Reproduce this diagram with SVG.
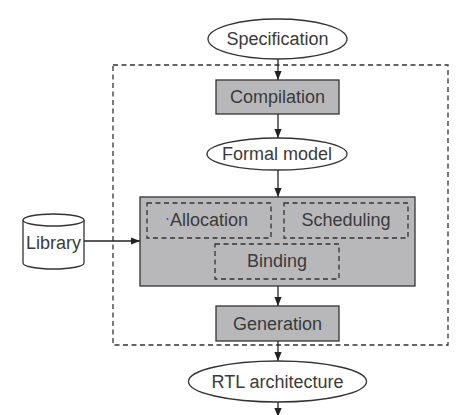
<svg xmlns="http://www.w3.org/2000/svg" width="474" height="415" viewBox="0 0 474 415">
<defs>
<style>
text{font-family:"Liberation Sans",Arial,sans-serif;font-size:18px;fill:#3a3a3a;text-anchor:middle;dominant-baseline:central}
.ell{fill:#fff;stroke:#333;stroke-width:1.3}
.box{fill:#b8b8ba;stroke:#333;stroke-width:1.3}
.dash{fill:none;stroke:#333;stroke-width:1.3;stroke-dasharray:5,3.5}
.con{fill:none;stroke:#222;stroke-width:1.3;marker-end:url(#ah)}
</style>
<marker id="ah" viewBox="0 0 10 10" refX="10" refY="5" markerWidth="9" markerHeight="9" markerUnits="userSpaceOnUse" orient="auto">
<path d="M0,1 L10,5 L0,9 z" fill="#222"/>
</marker>
</defs>
<rect id="frame" x="113" y="65" width="335" height="280" class="dash"/>
<g id="connectors">
<line x1="278" y1="59" x2="278" y2="80" class="con"/>
<line x1="278" y1="114" x2="278" y2="138" class="con"/>
<line x1="278" y1="170" x2="278" y2="197" class="con"/>
<line x1="278" y1="286" x2="278" y2="306" class="con"/>
<line x1="278" y1="341" x2="278" y2="361" class="con"/>
<line x1="278" y1="402" x2="278" y2="417" class="con"/>
<line x1="84" y1="241" x2="140" y2="241" class="con"/>
</g>
<g id="specification"><ellipse cx="277.5" cy="39" rx="69.5" ry="20" class="ell"/><text x="277.5" y="39">Specification</text></g>
<g id="compilation"><rect x="216" y="80" width="123" height="34" class="box"/><text x="277.5" y="97">Compilation</text></g>
<g id="formal-model"><ellipse cx="277" cy="154" rx="70" ry="16" class="ell"/><text x="277" y="154">Formal model</text></g>
<g id="synthesis"><rect x="140" y="197" width="275" height="89" class="box"/></g>
<g id="allocation"><rect x="147" y="203" width="124" height="35" class="dash"/><text x="209" y="220">Allocation</text><circle cx="167.5" cy="219" r="0.9" fill="#3344cc"/></g>
<g id="scheduling"><rect x="284" y="203" width="124" height="35" class="dash"/><text x="346" y="220">Scheduling</text></g>
<g id="binding"><rect x="215" y="244" width="124" height="35" class="dash"/><text x="277" y="261">Binding</text></g>
<g id="library"><path d="M23,220 L23,263 A30.5,6 0 0 0 84,263 L84,220" fill="#fff" stroke="#333" stroke-width="1.3"/><ellipse cx="53.5" cy="220" rx="30.5" ry="6" class="ell"/><text x="53.5" y="243">Library</text></g>
<g id="generation"><rect x="216" y="306" width="123" height="35" class="box"/><text x="277.5" y="323.5">Generation</text></g>
<g id="rtl"><ellipse cx="277.5" cy="381.5" rx="89" ry="20.5" class="ell"/><text x="277.5" y="381.5">RTL architecture</text></g>
</svg>
